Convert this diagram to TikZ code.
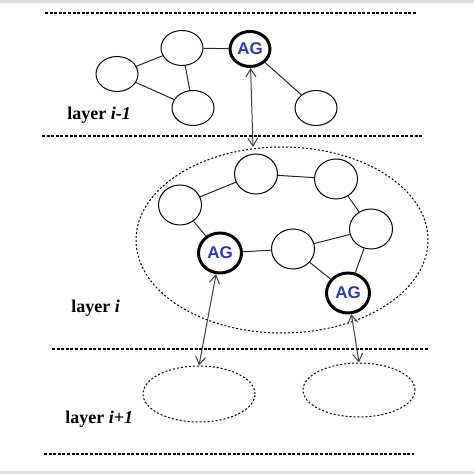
\documentclass[tikz,border=0pt]{standalone}
\usepackage{fontspec}
\setmainfont{Liberation Serif}
\newfontfamily\agfont{Liberation Sans}
\usetikzlibrary{shapes.geometric,arrows.meta}
\definecolor{agblue}{RGB}{40,60,180}
\definecolor{bandgray}{RGB}{222,222,222}
\tikzset{
  peer/.style={ellipse,draw,line width=0.5pt,inner sep=0pt,minimum width=21pt,minimum height=17.5pt},
  midpeer/.style={peer,minimum width=21.5pt,minimum height=20pt},
  agent/.style={midpeer,line width=1.5pt,font=\agfont\bfseries\fontsize{8.5}{9}\selectfont,text=agblue},
  group/.style={ellipse,draw,line width=0.5pt,dash pattern=on 1pt off 1pt,inner sep=0pt},
  layerline/.style={line width=0.6pt,dash pattern=on 1.5pt off 0.8pt},
  layerlabel/.style={anchor=west,inner sep=0pt,font=\bfseries\fontsize{9}{10}\selectfont},
  link/.style={line width=0.5pt,black!85},
  gateway/.style={line width=0.5pt,black!75,{Straight Barb[length=4pt,width=5pt]}-{Straight Barb[length=4pt,width=5pt]}}
}
\begin{document}
\begin{tikzpicture}[x=0.5pt,y=-0.5pt]
  \useasboundingbox (0,0) rectangle (474,474);
  \fill[bandgray] (0,0) rectangle (474,3);
  \fill[bandgray] (0,471) rectangle (474,474);

  \draw[layerline] (45,13)  -- (416,13);
  \draw[layerline] (42,136) -- (422,136);
  \draw[layerline] (52,349) -- (428,349);
  \draw[layerline] (44,454) -- (414,454);

  \node[layerlabel] (lab1) at (67,115) {layer \textit{i-1}};
  \node[layerlabel] (lab2) at (71,308) {layer \textit{i}};
  \node[layerlabel] (lab3) at (65,419) {layer \textit{i+1}};

  % layer i-1
  \node[peer] (u1) at (117,74)  {};
  \node[peer] (u2) at (182,48)  {};
  \node[peer] (u3) at (193,108) {};
  \node[peer] (u4) at (316,108) {};
  \node[agent,minimum width=20pt,minimum height=17.5pt] (ag0) at (250,49) {AG};

  % layer i
  \node[group,minimum width=146pt,minimum height=93pt] (cluster) at (282,240) {};
  \node[midpeer] (m1) at (180,205) {};
  \node[midpeer] (m2) at (256,174) {};
  \node[midpeer] (m3) at (336,179) {};
  \node[midpeer] (m4) at (371,229) {};
  \node[midpeer] (m5) at (293,249) {};
  \node[agent] (ag1) at (220,253) {AG};
  \node[agent] (ag2) at (348,293) {AG};

  % layer i+1
  \node[group,minimum width=56pt,minimum height=28pt] (low1) at (199,394) {};
  \node[group,minimum width=56pt,minimum height=27pt] (low2) at (359,390) {};

  \coordinate (entry) at (253,147);

  \path[link] (u1) edge (u2)
              (u1) edge (u3)
              (u2) edge (u3)
              (u2) edge (ag0)
              (ag0) edge (u4)
              (m1) edge (m2)
              (m2) edge (m3)
              (m3) edge (m4)
              (m1) edge (ag1)
              (ag1) edge (m5)
              (m5) edge (m4)
              (m5) edge (ag2)
              (m4) edge (ag2);

  \draw[gateway] (ag0) -- (entry);
  \draw[gateway] (ag1) -- (low1.north);
  \draw[gateway] (ag2) -- (low2.north);
\end{tikzpicture}
\end{document}
